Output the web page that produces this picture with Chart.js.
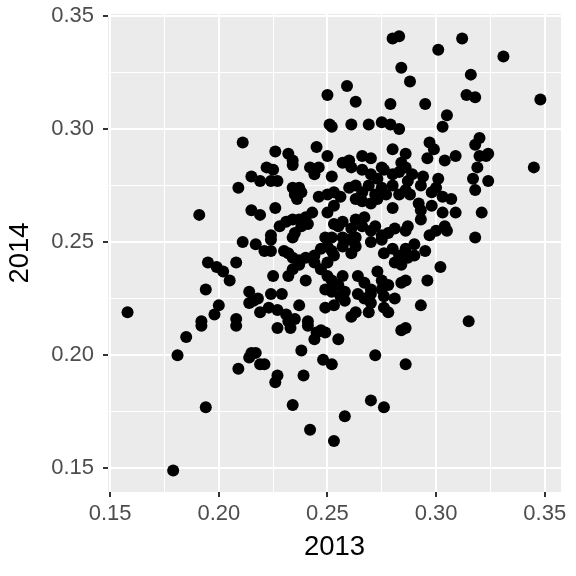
<!DOCTYPE html>
<html>
<head>
<meta charset="utf-8">
<script src="https://cdn.jsdelivr.net/npm/chart.js@4/dist/chart.umd.min.js"></script>
<style>
  html, body { margin: 0; padding: 0; background: #ffffff; }
</style>
</head>
<body>
<canvas id="chart" width="576" height="576"></canvas>
<script>
// Valores (2013 no eixo x, 2014 no eixo y)
const x2013 = [
  0.211, 0.280, 0.283, 0.284, 0.288, 0.259, 0.250, 0.263, 0.279, 0.251,
  0.252, 0.261, 0.269, 0.275, 0.279, 0.283, 0.226, 0.232, 0.234, 0.245,
  0.250, 0.242, 0.246, 0.257, 0.260, 0.266, 0.270, 0.280, 0.286, 0.284,
  0.275, 0.222, 0.225, 0.312, 0.301, 0.331, 0.316, 0.314, 0.318, 0.348,
  0.295, 0.305, 0.303, 0.297, 0.299, 0.296, 0.304, 0.309, 0.320, 0.318,
  0.320, 0.323, 0.324, 0.345, 0.319, 0.317, 0.324, 0.318, 0.321, 0.318,
  0.294, 0.293, 0.301, 0.300, 0.298, 0.303, 0.307, 0.288, 0.286, 0.292,
  0.293, 0.293, 0.298, 0.303, 0.309, 0.304, 0.305, 0.300, 0.297, 0.286,
  0.290, 0.295, 0.290, 0.287, 0.302, 0.296, 0.286, 0.293, 0.315, 0.286,
  0.286, 0.227, 0.233, 0.241, 0.245, 0.244, 0.249, 0.247, 0.255, 0.238,
  0.217, 0.221, 0.248, 0.252, 0.227, 0.226, 0.239, 0.272, 0.284, 0.234,
  0.270, 0.276, 0.258, 0.242, 0.253, 0.185, 0.181, 0.192, 0.208, 0.215,
  0.214, 0.219, 0.209, 0.194, 0.179, 0.215, 0.219, 0.209, 0.191, 0.215,
  0.219, 0.211, 0.217, 0.195, 0.199, 0.202, 0.205, 0.208, 0.194, 0.214,
  0.216, 0.214, 0.219, 0.158, 0.200, 0.198, 0.192, 0.208,
  0.224, 0.227, 0.234, 0.244, 0.252, 0.261, 0.266, 0.270, 0.273, 0.276,
  0.280, 0.283, 0.286, 0.289, 0.287, 0.234, 0.237, 0.235, 0.238, 0.236,
  0.246, 0.250, 0.253, 0.256, 0.260, 0.263, 0.266, 0.269, 0.272, 0.275,
  0.277, 0.280, 0.283, 0.263, 0.266, 0.270, 0.273, 0.280, 0.253, 0.250,
  0.226, 0.231, 0.228, 0.234, 0.237, 0.240, 0.243, 0.241, 0.238, 0.235,
  0.234, 0.224, 0.224, 0.253, 0.257, 0.255, 0.263, 0.267, 0.261, 0.266,
  0.272, 0.270, 0.275, 0.278, 0.281, 0.287, 0.249, 0.252, 0.257, 0.260,
  0.263, 0.270, 0.275, 0.221, 0.224, 0.230, 0.232, 0.234, 0.237, 0.240,
  0.244, 0.247, 0.250, 0.252, 0.250, 0.253, 0.257, 0.263, 0.261, 0.276,
  0.280, 0.283, 0.286, 0.281, 0.284, 0.237, 0.234, 0.247, 0.244, 0.225,
  0.232, 0.240, 0.250, 0.252, 0.249, 0.252, 0.255, 0.256, 0.258, 0.257,
  0.264, 0.267, 0.270, 0.273, 0.275, 0.264, 0.267, 0.270, 0.275, 0.278,
  0.284, 0.281, 0.276, 0.224, 0.229, 0.218, 0.223, 0.227, 0.231, 0.237,
  0.235, 0.232, 0.249, 0.253, 0.258, 0.261, 0.263, 0.269, 0.270, 0.276,
  0.278, 0.241
];
const y2014 = [
  0.294, 0.340, 0.341, 0.327, 0.321, 0.319, 0.315, 0.312, 0.311, 0.302,
  0.301, 0.302, 0.302, 0.303, 0.302, 0.300, 0.290, 0.289, 0.286, 0.292,
  0.288, 0.283, 0.283, 0.285, 0.286, 0.288, 0.287, 0.291, 0.289, 0.285,
  0.283, 0.283, 0.282, 0.340, 0.335, 0.332, 0.324, 0.315, 0.314, 0.313,
  0.311, 0.306, 0.301, 0.294, 0.291, 0.287, 0.286, 0.288, 0.296, 0.293,
  0.288, 0.288, 0.289, 0.283, 0.283, 0.278, 0.277, 0.273, 0.263, 0.252,
  0.279, 0.275, 0.278, 0.274, 0.272, 0.270, 0.269, 0.271, 0.273, 0.267,
  0.264, 0.260, 0.266, 0.263, 0.263, 0.257, 0.255, 0.255, 0.253, 0.255,
  0.249, 0.246, 0.244, 0.243, 0.239, 0.233, 0.233, 0.222, 0.215, 0.212,
  0.196, 0.212, 0.212, 0.213, 0.210, 0.207, 0.210, 0.211, 0.207, 0.202,
  0.201, 0.196, 0.198, 0.196, 0.191, 0.188, 0.191, 0.200, 0.211, 0.178,
  0.180, 0.177, 0.173, 0.167, 0.162, 0.208, 0.200, 0.213, 0.213, 0.201,
  0.199, 0.196, 0.194, 0.177, 0.149, 0.279, 0.277, 0.274, 0.262, 0.264,
  0.262, 0.250, 0.249, 0.241, 0.239, 0.237, 0.233, 0.241, 0.229, 0.228,
  0.224, 0.223, 0.219, 0.219, 0.222, 0.218, 0.215, 0.216,
  0.277, 0.277, 0.284, 0.280, 0.279, 0.283, 0.282, 0.280, 0.278, 0.282,
  0.280, 0.281, 0.283, 0.280, 0.277, 0.274, 0.274, 0.271, 0.272, 0.269,
  0.270, 0.271, 0.272, 0.270, 0.274, 0.275, 0.272, 0.275, 0.271, 0.274,
  0.271, 0.275, 0.271, 0.269, 0.268, 0.267, 0.269, 0.265, 0.266, 0.263,
  0.265, 0.259, 0.257, 0.260, 0.260, 0.261, 0.263, 0.258, 0.257, 0.254,
  0.252, 0.253, 0.251, 0.258, 0.259, 0.257, 0.260, 0.261, 0.256, 0.257,
  0.257, 0.255, 0.253, 0.254, 0.256, 0.257, 0.252, 0.252, 0.252, 0.251,
  0.252, 0.250, 0.251, 0.246, 0.246, 0.246, 0.245, 0.243, 0.242, 0.243,
  0.244, 0.247, 0.248, 0.246, 0.241, 0.244, 0.248, 0.248, 0.245, 0.245,
  0.247, 0.244, 0.247, 0.241, 0.240, 0.240, 0.238, 0.238, 0.241, 0.235,
  0.235, 0.233, 0.235, 0.233, 0.229, 0.228, 0.231, 0.226, 0.228, 0.235,
  0.235, 0.232, 0.229, 0.237, 0.233, 0.227, 0.225, 0.227, 0.229, 0.231,
  0.232, 0.225, 0.226, 0.227, 0.227, 0.225, 0.221, 0.220, 0.218, 0.222,
  0.216, 0.215, 0.221, 0.222, 0.224, 0.217, 0.219, 0.219, 0.223, 0.221,
  0.219, 0.215
];

// Marcas dos eixos: principais (com rótulo) e secundárias (só a grade)
const majorTicks = [0.15, 0.20, 0.25, 0.30, 0.35];
const minorTicks = [0.175, 0.225, 0.275, 0.325];
const xLimits = [0.1490, 0.3575];
const yLimits = [0.1395, 0.3508];

const FONT = "'Liberation Sans', Arial, Helvetica, sans-serif";

function isMajor(v) {
  return majorTicks.some(m => Math.abs(m - v) < 1e-9);
}

// Fundo cinza do painel, como no ggplot
const panelBackground = {
  id: 'panelBackground',
  beforeDraw(chart) {
    const { ctx, chartArea: a } = chart;
    ctx.save();
    ctx.fillStyle = '#EBEBEB';
    ctx.fillRect(a.left, a.top, a.right - a.left, a.bottom - a.top);
    ctx.restore();
  }
};

// Configuração comum dos dois eixos
function axisOptions(limits, title, titlePadding, size) {
  return {
    type: 'linear',
    min: limits[0],
    max: limits[1],
    afterBuildTicks: scale => {
      scale.ticks = majorTicks.concat(minorTicks).sort((a, b) => a - b).map(v => ({ value: v }));
    },
    afterFit: scale => {
      // tamanho fixo do eixo e sem folga extra para os rótulos das pontas
      if (scale.isHorizontal()) scale.height = size;
      else scale.width = size;
      scale.paddingTop = 0;
      scale.paddingBottom = 0;
      scale.paddingLeft = 0;
      scale.paddingRight = 0;
    },
    border: { display: false },
    grid: {
      color: '#FFFFFF',
      lineWidth: c => (isMajor(c.tick.value) ? 2 : 1),
      drawTicks: true,
      tickLength: 5,
      tickWidth: 2,
      tickColor: c => (isMajor(c.tick.value) ? '#333333' : 'rgba(0,0,0,0)')
    },
    ticks: {
      autoSkip: false,
      maxRotation: 0,
      color: '#4D4D4D',
      font: { family: FONT, size: 22 },
      padding: title === '2013' ? 4 : 9,
      callback: v => (isMajor(v) ? v.toFixed(2) : '')
    },
    title: {
      display: true,
      text: title,
      color: '#000000',
      font: { family: FONT, size: 27.5 },
      padding: titlePadding
    }
  };
}

const points = x2013.map((x, i) => ({ x: x, y: y2014[i] }));

new Chart(document.getElementById('chart'), {
  type: 'scatter',
  data: {
    datasets: [{
      data: points,
      backgroundColor: '#000000',
      borderWidth: 0,
      pointRadius: 6,
      pointHoverRadius: 6
    }]
  },
  options: {
    responsive: false,
    animation: false,
    devicePixelRatio: 1,
    events: [],
    layout: { padding: { left: 0, right: 15, top: 14, bottom: 0 } },
    plugins: {
      legend: { display: false },
      tooltip: { enabled: false }
    },
    scales: {
      x: axisOptions(xLimits, '2013', { top: 0, bottom: 12 }, 84),
      y: axisOptions(yLimits, '2014', { top: 4, bottom: 0 }, 108)
    }
  },
  plugins: [panelBackground]
});
</script>
</body>
</html>
